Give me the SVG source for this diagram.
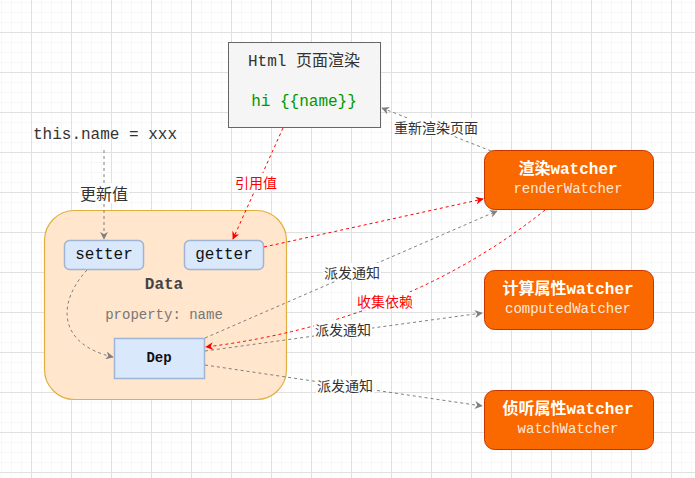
<svg xmlns="http://www.w3.org/2000/svg" width="695" height="478" viewBox="0 0 695 478">
<defs>
<pattern id="minor" x="1" y="2" width="10" height="10" patternUnits="userSpaceOnUse">
<path d="M0 0 H10 M0 0 V10" fill="none" stroke="#f2f2f2" stroke-width="1"/>
</pattern>
<pattern id="major" x="31" y="32" width="40" height="40" patternUnits="userSpaceOnUse">
<path d="M0 0.5 H40 M0.5 0 V40" fill="none" stroke="#e0e0e0" stroke-width="1"/>
</pattern>
<marker id="ag" viewBox="0 0 10 10" refX="9" refY="5" markerWidth="8" markerHeight="8" orient="auto" markerUnits="userSpaceOnUse">
<path d="M0,0 L10,5 L0,10 L3,5 z" fill="#808080"/>
</marker>
<marker id="ar" viewBox="0 0 10 10" refX="9" refY="5" markerWidth="8" markerHeight="8" orient="auto" markerUnits="userSpaceOnUse">
<path d="M0,0 L10,5 L0,10 L3,5 z" fill="#ff0000"/>
</marker>
<style>
.mono{font-family:"Liberation Mono","Noto Sans CJK SC",monospace}
.cjk{font-family:"Noto Sans CJK SC","Liberation Sans",sans-serif}
.g{fill:none;stroke:#808080;stroke-width:1;stroke-dasharray:3 3;marker-end:url(#ag)}
.r{fill:none;stroke:#ff0000;stroke-width:1;stroke-dasharray:3 3;marker-end:url(#ar)}
.lbl{font-size:14px;fill:#333}
.lblr{font-size:14px;fill:#ff0000}
.small{fill:#dae8fc;stroke:#a0b4d4;stroke-width:1.5}
.orange{fill:#fa6800;stroke:#c73500;stroke-width:1}
.wt{font-size:16px;font-weight:bold;fill:#ffffff}
.ws{font-size:14px;fill:#ffe8d8}
</style>
</defs>
<rect width="695" height="478" fill="#ffffff"/>
<rect width="695" height="478" fill="url(#minor)"/>
<rect width="695" height="478" fill="url(#major)"/>

<g id="html">
<rect x="228.5" y="42.5" width="152" height="85" fill="#f5f5f5" stroke="#666666"/>
<text x="304" y="62" class="mono" font-size="16" fill="#333" text-anchor="middle" dominant-baseline="central">Html 页面渲染</text>
<text x="304" y="102" class="mono" font-size="16" fill="#009900" text-anchor="middle" dominant-baseline="central">hi {{name}}</text>
</g>

<g id="assign">
<text x="105" y="135" class="mono" font-size="16" fill="#333" text-anchor="middle" dominant-baseline="central">this.name = xxx</text>
</g>

<g id="data">
<rect x="44.5" y="210.5" width="242" height="189" rx="30" ry="30" fill="#ffe6cc" stroke="#e0b040" stroke-width="1.2"/>
<text x="164" y="285" class="mono" font-size="16" font-weight="bold" fill="#444" text-anchor="middle" dominant-baseline="central">Data</text>
<text x="164" y="315" class="mono" font-size="14" fill="#777" text-anchor="middle" dominant-baseline="central">property: name</text>
</g>

<g id="setter">
<rect x="64.5" y="240.5" width="79" height="29" rx="5" class="small"/>
<text x="104" y="255" class="mono" font-size="16" fill="#111" text-anchor="middle" dominant-baseline="central">setter</text>
</g>

<g id="getter">
<rect x="184.5" y="240.5" width="79" height="29" rx="5" class="small"/>
<text x="224" y="255" class="mono" font-size="16" fill="#111" text-anchor="middle" dominant-baseline="central">getter</text>
</g>

<g id="dep">
<rect x="114.5" y="338.5" width="90" height="40" class="small"/>
<text x="159" y="358" class="mono" font-size="14" font-weight="bold" fill="#111" text-anchor="middle" dominant-baseline="central">Dep</text>
</g>

<g id="renderWatcher">
<rect x="484.5" y="150.5" width="169" height="59" rx="10" class="orange"/>
<text x="568" y="170" class="mono wt" text-anchor="middle" dominant-baseline="central">渲染watcher</text>
<text x="568" y="189" class="mono ws" text-anchor="middle" dominant-baseline="central">renderWatcher</text>
</g>

<g id="computedWatcher">
<rect x="484.5" y="270.5" width="169" height="59" rx="10" class="orange"/>
<text x="568" y="290" class="mono wt" text-anchor="middle" dominant-baseline="central">计算属性watcher</text>
<text x="568" y="309" class="mono ws" text-anchor="middle" dominant-baseline="central">computedWatcher</text>
</g>

<g id="watchWatcher">
<rect x="484.5" y="390.5" width="169" height="59" rx="10" class="orange"/>
<text x="568" y="410" class="mono wt" text-anchor="middle" dominant-baseline="central">侦听属性watcher</text>
<text x="568" y="429" class="mono ws" text-anchor="middle" dominant-baseline="central">watchWatcher</text>
</g>

<g id="connectors">
<path class="g" d="M104 150 L104 239"/>
<rect x="79" y="183" width="50" height="20" fill="#ffffff"/>
<text x="104" y="193" class="cjk" font-size="16" fill="#333" text-anchor="middle" dominant-baseline="central">更新值</text>

<path class="r" d="M283 128 L233 239"/>
<rect x="234" y="173" width="44" height="18" fill="#ffffff"/>
<text x="256" y="182" class="cjk lblr" text-anchor="middle" dominant-baseline="central">引用值</text>

<path class="r" d="M264 247 L483 199"/>

<path class="g" d="M205 338 L497 211"/>
<rect x="323" y="263" width="58" height="18" fill="#ffffff"/>
<text x="352" y="272" class="cjk lbl" text-anchor="middle" dominant-baseline="central">派发通知</text>

<path class="r" d="M545 210 Q405 322 206 347"/>
<rect x="356" y="292" width="58" height="18" fill="#ffffff"/>
<text x="385" y="301" class="cjk lblr" text-anchor="middle" dominant-baseline="central">收集依赖</text>

<path class="g" d="M205 351 L482 313"/>
<rect x="314" y="320" width="58" height="18" fill="#ffffff"/>
<text x="343" y="329" class="cjk lbl" text-anchor="middle" dominant-baseline="central">派发通知</text>

<path class="g" d="M205 365 L482 406"/>
<rect x="316" y="376" width="58" height="18" fill="#ffffff"/>
<text x="345" y="385" class="cjk lbl" text-anchor="middle" dominant-baseline="central">派发通知</text>

<path class="g" d="M491 151 L382 108"/>
<rect x="393" y="118" width="86" height="18" fill="#ffffff"/>
<text x="436" y="127" class="cjk lbl" text-anchor="middle" dominant-baseline="central">重新渲染页面</text>

<path class="g" d="M87 270 C55 305 60 345 113 357"/>
</g>
</svg>
